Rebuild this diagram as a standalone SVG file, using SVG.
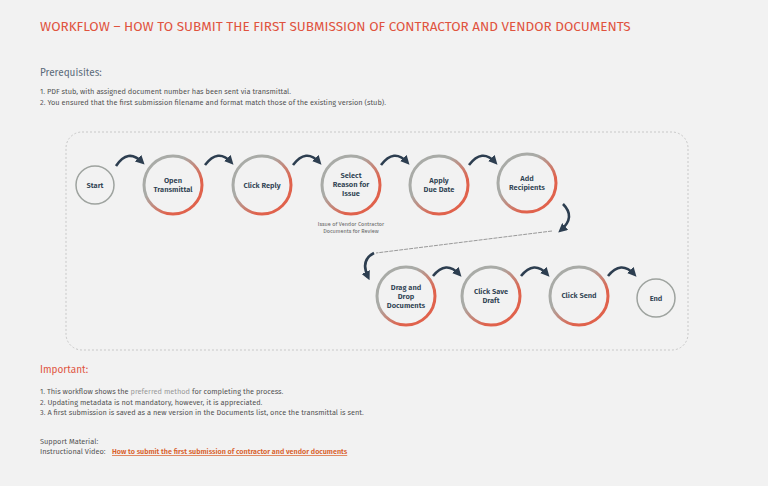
<svg xmlns="http://www.w3.org/2000/svg" width="768" height="486" viewBox="0 0 768 486">
<defs>
<linearGradient id="g" x1="0" y1="0" x2="1" y2="1"><stop offset="0.35" stop-color="#a9aba7"/><stop offset="0.7" stop-color="#e0624c"/></linearGradient>
<marker id="ah" viewBox="0 0 10 10" refX="6" refY="5" markerWidth="3.5" markerHeight="3.5" orient="auto"><path d="M0,0L10,5L0,10z" fill="#2d3e50"/></marker>
</defs>
<style>
text{font-family:"Fira Sans","Open Sans","Liberation Sans",sans-serif}
.n{fill:#f2f2f2;stroke:url(#g);stroke-width:3}
.t{fill:#f2f2f2;stroke:#9ea39f;stroke-width:1.5}
.l{font-size:7.5px;font-weight:600;fill:#2d3e50;text-anchor:middle}
.c{fill:none;stroke:#2d3e50;stroke-width:2.6;marker-end:url(#ah)}
.b{font-size:7.4px;fill:#555}
</style>
<rect width="768" height="486" fill="#f2f2f2"/>
<text x="40" y="31" font-size="13.5" fill="#e0533e">WORKFLOW – HOW TO SUBMIT THE FIRST SUBMISSION OF CONTRACTOR AND VENDOR DOCUMENTS</text>
<text x="40" y="76" font-size="10" fill="#5a6a7a">Prerequisites:</text>
<text x="40" y="94" class="b">1.  PDF stub, with assigned document number has been sent via transmittal.</text>
<text x="40" y="105" class="b">2.  You ensured that the first submission filename and format match those of the existing version (stub).</text>
<rect x="66" y="132" width="622" height="218" rx="16" fill="none" stroke="#c8c8c8" stroke-dasharray="2,2"/>
<g id="connectors">
<path class="c" d="M116,166 Q128,148 142,162"/>
<path class="c" d="M205,165 Q218,148 231,162"/>
<path class="c" d="M293,165 Q306,148 319,162"/>
<path class="c" d="M381,165 Q394,148 407,162"/>
<path class="c" d="M469,165 Q482,148 495,162"/>
<path class="c" d="M563,204 Q576,217 561,230"/>
<path d="M552,231 L376,253" fill="none" stroke="#999" stroke-width="1" stroke-dasharray="4,1"/>
<path class="c" d="M374,253 Q360,260 368,277"/>
<path class="c" d="M433,276 Q446,260 459,274"/>
<path class="c" d="M521,276 Q534,260 547,274"/>
<path class="c" d="M608,276 Q621,260 634,274"/>
</g>
<g id="start"><circle class="t" cx="95" cy="185" r="19"/><text class="l" x="95" y="188">Start</text></g>
<g id="open"><circle class="n" cx="173" cy="185" r="29"/><text class="l" x="173" y="183">Open</text><text class="l" x="173" y="192">Transmittal</text></g>
<g id="reply"><circle class="n" cx="262" cy="185" r="29"/><text class="l" x="262" y="188">Click Reply</text></g>
<g id="select"><circle class="n" cx="351" cy="185" r="29"/><text class="l" x="351" y="178">Select</text><text class="l" x="351" y="187">Reason for</text><text class="l" x="351" y="196">Issue</text>
<text x="351" y="226" font-size="5.5" fill="#666" text-anchor="middle">Issue of Vendor Contractor</text><text x="351" y="233" font-size="5.5" fill="#666" text-anchor="middle">Documents for Review</text></g>
<g id="apply"><circle class="n" cx="439" cy="185" r="29"/><text class="l" x="439" y="183">Apply</text><text class="l" x="439" y="192">Due Date</text></g>
<g id="add"><circle class="n" cx="527" cy="183" r="29"/><text class="l" x="527" y="181">Add</text><text class="l" x="527" y="190">Recipients</text></g>
<g id="drag"><circle class="n" cx="406" cy="296" r="29"/><text class="l" x="406" y="290">Drag and</text><text class="l" x="406" y="299">Drop</text><text class="l" x="406" y="308">Documents</text></g>
<g id="save"><circle class="n" cx="491" cy="296" r="29"/><text class="l" x="491" y="294">Click Save</text><text class="l" x="491" y="303">Draft</text></g>
<g id="send"><circle class="n" cx="579" cy="296" r="29"/><text class="l" x="579" y="298">Click Send</text></g>
<g id="end"><circle class="t" cx="656" cy="298" r="19"/><text class="l" x="656" y="301">End</text></g>
<text x="40" y="373" font-size="10" fill="#e0533e">Important:</text>
<text x="40" y="394" class="b">1.  This workflow shows the <tspan fill="#999">preferred method</tspan> for completing the process.</text>
<text x="40" y="405" class="b">2.  Updating metadata is not mandatory, however, it is appreciated.</text>
<text x="40" y="415" class="b">3.  A first submission is saved as a new version in the Documents list, once the transmittal is sent.</text>
<text x="40" y="444" class="b" fill="#777">Support Material:</text>
<text x="40" y="454" class="b">Instructional Video:</text>
<text x="112" y="454" font-size="7.2" fill="#d9602a" text-decoration="underline" font-weight="600">How to submit the first submission of contractor and vendor documents</text>
</svg>
